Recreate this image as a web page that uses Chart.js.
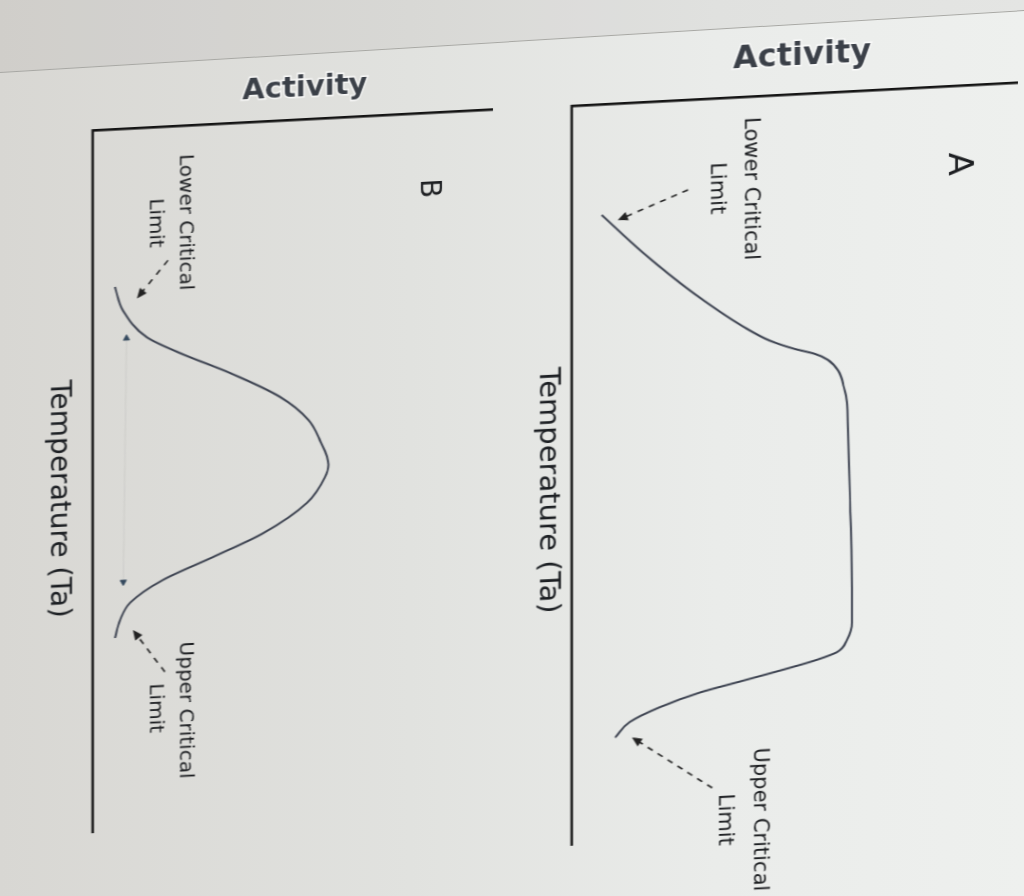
<!DOCTYPE html>
<html>
<head>
<meta charset="utf-8">
<title>Activity vs Temperature</title>
<script src="https://cdn.jsdelivr.net/npm/chart.js@4.4.1/dist/chart.umd.min.js"></script>
<style>
  html, body { margin: 0; width: 1024px; height: 896px; overflow: hidden; }
  body {
    position: relative;
    background: linear-gradient(90deg, #d8d7d3 0%, #e1e2df 40%, #eaecea 70%, #eef0ee 100%);
    font-family: "DejaVu Sans", sans-serif;
  }
  .shade { position: absolute; left: 0; top: 0; width: 1024px; height: 80px;
    background: rgba(110, 108, 100, 0.08); clip-path: polygon(0 0, 100% 0, 100% 10px, 0 72px); }
  .edge { position: absolute; left: 0; top: 72px; width: 1030px; height: 1px; background: #a8a8a4;
    transform-origin: 0 0; transform: rotate(-3.46deg); }
  /* the charts are photographed turned a quarter turn, with a little perspective */
  .panel { position: absolute; transform-origin: 0 0; }
  #panelA { left: 510px; top: 20px; width: 900px; height: 514px;
    transform: skewY(-3deg) translateX(514px) rotate(90deg); }
  #panelB { left: 20px; top: 20px; width: 900px; height: 500px;
    transform: skewY(-3deg) translateX(500px) rotate(90deg); }
</style>
</head>
<body>
<div class="shade"></div>
<div class="edge"></div>
<div class="panel" id="panelA"><canvas id="chartA" width="900" height="514"></canvas></div>
<div class="panel" id="panelB"><canvas id="chartB" width="900" height="500"></canvas></div>

<script>
// Panel A - broad tolerance (temperature vs activity)
const tempA = [15.0, 20.4, 26.2, 31.1, 33.2, 34.5, 35.3, 36.2, 37.7, 40.0, 42.1, 45.8,
  55.3, 67.5, 71.9, 74.2, 75.8, 76.7, 77.6, 79.1, 80.3, 82.0, 83.8, 85.8];
const activityA = [6.7, 16.0, 27.3, 38.5, 44.5, 50.1, 54.6, 57.5, 59.8, 61.1, 61.8, 62.0,
  62.5, 62.9, 62.9, 61.8, 59.6, 55.1, 49.0, 37.8, 28.8, 19.8, 13.0, 9.7];

// Panel B - narrow tolerance
const tempB = [22.5, 25.9, 29.9, 32.4, 35.6, 39.4, 42.9, 45.9, 49.4, 51.2, 54.7, 58.7,
  61.7, 64.6, 67.6, 70.0, 72.5];
const activityB = [5.5, 7.5, 13.5, 21.8, 34.3, 46.9, 54.0, 56.9, 59.0, 58.1, 53.6, 42.6,
  30.1, 17.5, 9.3, 6.8, 5.5];
const rangeTempB = [29.9, 64.6];
const rangeActivityB = [8.4, 7.6];

// dashed arrows: [fromTemp, fromActivity, toTemp, toActivity]
const arrowsA = [[12.2, 26.1, 15.8, 10.3], [93.3, 31.5, 85.9, 13.5]];
const arrowsB = [[19.1, 18.8, 24.3, 11.0], [77.7, 18.0, 71.5, 10.0]];

// notes: [text, temp, activity]
const notesA = [["Lower Critical", 12.5, 40.0], ["Limit", 12.2, 32.4],
  ["Upper Critical", 97.9, 42.2], ["Limit", 97.7, 34.2]];
const notesB = [["Lower Critical", 13.8, 23.1], ["Limit", 13.7, 15.5],
  ["Upper Critical", 83.3, 23.1], ["Limit", 82.8, 15.5]];
const letterA = ["A", 10.6, 86.7];
const letterB = ["B", 10.8, 84.0];

const xTitle = "Temperature (Ta)";
const yTitle = "Activity";

function notesPlugin(p) {
  return {
    id: "notes",
    afterDatasetsDraw(chart) {
      const { ctx, chartArea, scales: { x, y } } = chart;

      // axis titles
      ctx.save();
      ctx.textAlign = "center";
      ctx.textBaseline = "middle";
      ctx.translate(chartArea.left - p.yTitleGap, y.getPixelForValue(p.yTitleAt));
      ctx.rotate(-Math.PI / 2);
      ctx.font = "bold " + p.yTitleSize + "px 'DejaVu Sans'";
      ctx.lineWidth = 3;
      ctx.strokeStyle = "rgba(255,255,255,0.75)";
      ctx.strokeText(yTitle, 0, 0);
      ctx.fillStyle = "#3b4048";
      ctx.fillText(yTitle, 0, 0);
      ctx.restore();

      ctx.save();
      ctx.textAlign = "center";
      ctx.textBaseline = "middle";
      ctx.font = p.xTitleSize + "px 'DejaVu Sans'";
      ctx.fillStyle = "#1c1f23";
      ctx.fillText(xTitle, x.getPixelForValue(p.xTitleAt), chartArea.bottom + p.xTitleGap);
      ctx.restore();

      // dashed arrows
      p.arrows.forEach(([t0, a0, t1, a1]) => {
        const x0 = x.getPixelForValue(t0), y0 = y.getPixelForValue(a0);
        const x1 = x.getPixelForValue(t1), y1 = y.getPixelForValue(a1);
        const ang = Math.atan2(y1 - y0, x1 - x0);
        ctx.save();
        ctx.strokeStyle = "#222";
        ctx.fillStyle = "#222";
        ctx.lineWidth = 1.6;
        ctx.setLineDash([6, 6]);
        ctx.beginPath();
        ctx.moveTo(x0, y0);
        ctx.lineTo(x1 - 8 * Math.cos(ang), y1 - 8 * Math.sin(ang));
        ctx.stroke();
        ctx.setLineDash([]);
        ctx.translate(x1, y1);
        ctx.rotate(ang);
        ctx.beginPath();
        ctx.moveTo(0, 0);
        ctx.lineTo(-10, -4.5);
        ctx.lineTo(-10, 4.5);
        ctx.closePath();
        ctx.fill();
        ctx.restore();
      });

      // text notes
      ctx.save();
      ctx.textAlign = "center";
      ctx.textBaseline = "middle";
      ctx.fillStyle = "#1d1f22";
      ctx.font = p.noteSize + "px 'DejaVu Sans'";
      p.notes.forEach(([text, t, a]) => {
        ctx.fillText(text, x.getPixelForValue(t), y.getPixelForValue(a));
      });
      ctx.font = p.letterSize + "px 'DejaVu Sans'";
      ctx.fillText(p.letter[0], x.getPixelForValue(p.letter[1]), y.getPixelForValue(p.letter[2]));
      ctx.restore();
    }
  };
}

function makeChart(id, temps, acts, extra, padding, p) {
  const datasets = [{
    data: temps.map((t, i) => ({ x: t, y: acts[i] })),
    showLine: true,
    borderColor: "#3c4250",
    borderWidth: 2,
    pointRadius: 0,
    cubicInterpolationMode: "monotone"
  }];
  if (extra) datasets.push(extra);

  const axis = (position) => ({
    type: "linear",
    position,
    min: 0,
    max: 100,
    ticks: { display: false },
    grid: { display: false, drawTicks: false },
    border: { display: true, color: "#141414", width: 2.6 }
  });

  return new Chart(document.getElementById(id), {
    type: "scatter",
    data: { datasets },
    options: {
      responsive: false,
      animation: false,
      layout: { autoPadding: false, padding },
      plugins: { legend: { display: false }, tooltip: { enabled: false } },
      scales: { x: axis("bottom"), y: axis("left") }
    },
    plugins: [notesPlugin(p)]
  });
}

makeChart("chartA", tempA, activityA, null,
  { left: 89, right: 72, top: 7, bottom: 62 },
  { arrows: arrowsA, notes: notesA, letter: letterA, noteSize: 21, letterSize: 34,
    xTitleSize: 29, xTitleGap: 24, xTitleAt: 51.9,
    yTitleSize: 32, yTitleGap: 37, yTitleAt: 51.7 });

makeChart("chartB", tempB, activityB, {
    data: rangeTempB.map((t, i) => ({ x: t, y: rangeActivityB[i] })),
    showLine: true,
    borderColor: "rgba(150,150,150,0.2)",
    borderWidth: 1,
    pointStyle: "triangle",
    pointRadius: 3.5,
    pointRotation: [270, 90],
    pointBackgroundColor: "#34495e",
    pointBorderColor: "#34495e"
  },
  { left: 114, right: 84, top: 28, bottom: 73 },
  { arrows: arrowsB, notes: notesB, letter: letterB, noteSize: 20, letterSize: 28,
    xTitleSize: 28, xTitleGap: 35, xTitleAt: 52.3,
    yTitleSize: 29, yTitleGap: 31, yTitleAt: 53.1 });
</script>
</body>
</html>
